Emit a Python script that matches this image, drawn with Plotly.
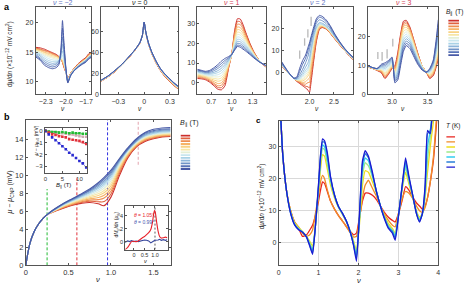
import plotly.graph_objects as go
import numpy as np

W, H = 474, 289
FONT = "Liberation Sans, Arial, sans-serif"
AX = "#555555"

# ---------------- data ----------------
B_VALUES = list(range(13))
B_COLORS = ["#4759a6", "#5873b6", "#6f93c7", "#8cb5da", "#a9d2e6", "#c8e6ee", "#e4efd6",
            "#f6e6a6", "#f8d284", "#f6b468", "#ee8f52", "#e0613f", "#cc2f2c"]

# panel a, nu = -2
A1_NU = [-2.45, -2.38, -2.32, -2.26, -2.2, -2.14, -2.1, -2.07, -2.05, -2.03, -2.0, -1.97,
         -1.93, -1.88, -1.82, -1.76, -1.7, -1.66, -1.62]
A1_DMU = [
    [14.2, 13.6, 12.8, 12.4, 12.2, 12.4, 13.0, 16.0, 20.3, 17.0, 12.5, 9.8, 11.0, 11.8, 12.4, 12.9, 13.3, 13.8, 14.1],
    [14.4, 13.8, 13.1, 12.7, 12.5, 12.7, 13.3, 15.5, 19.0, 16.2, 12.3, 9.9, 11.0, 11.8, 12.5, 13.0, 13.4, 13.9, 14.2],
    [14.6, 14.0, 13.4, 13.0, 12.8, 13.0, 13.5, 15.0, 17.5, 15.5, 12.2, 10.0, 11.1, 11.9, 12.5, 13.0, 13.5, 14.0, 14.3],
    [14.8, 14.3, 13.7, 13.3, 13.1, 13.2, 13.6, 14.6, 16.3, 14.8, 12.0, 10.0, 11.1, 11.9, 12.6, 13.1, 13.6, 14.1, 14.4],
    [15.0, 14.5, 14.0, 13.6, 13.4, 13.4, 13.6, 14.2, 15.2, 14.2, 11.9, 10.1, 11.2, 12.0, 12.6, 13.1, 13.6, 14.1, 14.4],
    [15.1, 14.7, 14.3, 13.9, 13.7, 13.6, 13.7, 14.0, 14.5, 13.7, 11.8, 10.1, 11.2, 12.0, 12.7, 13.2, 13.7, 14.2, 14.5],
    [15.2, 14.9, 14.5, 14.2, 14.0, 13.8, 13.8, 13.9, 14.0, 13.4, 11.8, 10.2, 11.2, 12.0, 12.7, 13.2, 13.7, 14.2, 14.5],
    [15.3, 15.0, 14.7, 14.4, 14.2, 14.0, 13.9, 13.8, 13.7, 13.2, 11.8, 10.2, 11.3, 12.1, 12.8, 13.3, 13.8, 14.3, 14.6],
    [15.4, 15.2, 14.9, 14.6, 14.4, 14.2, 14.0, 13.8, 13.5, 13.0, 11.8, 10.3, 11.3, 12.1, 12.8, 13.3, 13.8, 14.3, 14.6],
    [15.5, 15.3, 15.0, 14.8, 14.6, 14.3, 14.1, 13.8, 13.4, 12.8, 11.8, 10.3, 11.3, 12.1, 12.8, 13.4, 13.9, 14.4, 14.7],
    [15.6, 15.4, 15.2, 15.0, 14.7, 14.4, 14.1, 13.8, 13.4, 12.7, 11.7, 10.4, 11.4, 12.2, 12.9, 13.4, 13.9, 14.5, 14.8],
    [15.7, 15.5, 15.3, 15.1, 14.8, 14.5, 14.2, 13.8, 13.3, 12.6, 11.7, 10.4, 11.4, 12.2, 12.9, 13.5, 14.0, 14.6, 14.9],
    [15.8, 15.7, 15.5, 15.2, 14.9, 14.6, 14.2, 13.8, 13.3, 12.5, 11.6, 10.5, 11.4, 12.2, 13.0, 13.6, 14.1, 14.7, 15.0],
]

# panel a, nu = 0
A2_NU = [-0.5, -0.42, -0.34, -0.26, -0.18, -0.11, -0.05, -0.02, 0.0, 0.02, 0.05, 0.09,
         0.14, 0.19, 0.24, 0.29, 0.34, 0.4]
A2_DMU = [
    [13.5, 17.5, 22.7, 28.5, 35.5, 42.0, 49.0, 56, 68.5, 59.0, 49.0, 40.0, 31.5, 24.5, 19.5, 15.5, 11.5, 7.5],
    [13.4, 17.4, 22.6, 28.4, 35.4, 42.0, 49.0, 56, 68.5, 59.0, 48.9, 39.9, 31.3, 24.3, 19.3, 15.3, 11.3, 7.3],
    [13.3, 17.3, 22.5, 28.3, 35.3, 41.9, 48.9, 56, 68.5, 58.9, 48.8, 39.8, 31.2, 24.2, 19.1, 15.1, 11.1, 7.1],
    [13.3, 17.3, 22.4, 28.3, 35.3, 41.9, 48.9, 56, 68.5, 58.9, 48.8, 39.6, 31.0, 24.0, 18.9, 14.8, 10.8, 6.8],
    [13.2, 17.2, 22.3, 28.2, 35.2, 41.8, 48.8, 56, 68.5, 58.8, 48.7, 39.5, 30.8, 23.8, 18.7, 14.6, 10.6, 6.6],
    [13.1, 17.1, 22.2, 28.1, 35.1, 41.8, 48.8, 56, 68.5, 58.8, 48.6, 39.4, 30.7, 23.7, 18.5, 14.4, 10.4, 6.4],
    [13.0, 17.0, 22.1, 28.0, 35.0, 41.7, 48.7, 56, 68.5, 58.7, 48.5, 39.3, 30.5, 23.5, 18.3, 14.2, 10.2, 6.2],
    [12.9, 16.9, 22.0, 27.9, 34.9, 41.7, 48.7, 56, 68.5, 58.7, 48.4, 39.1, 30.3, 23.3, 18.0, 13.9, 9.9, 5.9],
    [12.8, 16.8, 21.9, 27.8, 34.8, 41.6, 48.6, 56, 68.5, 58.6, 48.3, 39.0, 30.2, 23.2, 17.8, 13.7, 9.7, 5.7],
    [12.8, 16.8, 21.8, 27.8, 34.8, 41.6, 48.6, 56, 68.5, 58.6, 48.3, 38.9, 30.0, 23.0, 17.6, 13.5, 9.5, 5.5],
    [12.7, 16.7, 21.7, 27.7, 34.7, 41.6, 48.6, 56, 68.5, 58.6, 48.2, 38.8, 29.8, 22.8, 17.4, 13.3, 9.3, 5.3],
    [12.6, 16.6, 21.6, 27.6, 34.6, 41.5, 48.5, 56, 68.5, 58.5, 48.1, 38.6, 29.7, 22.7, 17.2, 13.0, 9.0, 5.0],
    [12.5, 16.5, 21.5, 27.5, 34.5, 41.5, 48.5, 56, 68.5, 58.5, 48.0, 38.5, 29.5, 22.5, 17.0, 12.8, 8.8, 4.8],
]

# panel a, nu = 1
A3_NU = [0.5, 0.56, 0.62, 0.68, 0.74, 0.8, 0.85, 0.9, 0.95, 1.0, 1.04, 1.08, 1.12, 1.16,
         1.2, 1.26, 1.32, 1.4, 1.49]
A3_DMU = [
    [6.8, 6.3, 5.8, 6.3, 7.6, 9.3, 11.0, 12.3, 13.2, 14.5, 16.5, 18.3, 18.0, 17.0, 16.0, 14.3, 12.5, 10.4, 8.8],
    [6.5, 6.0, 5.5, 5.8, 6.9, 8.3, 9.8, 11.3, 12.6, 14.4, 16.8, 19.0, 18.8, 17.8, 16.6, 14.7, 12.8, 10.5, 8.8],
    [6.1, 5.7, 5.2, 5.3, 6.1, 7.3, 8.6, 10.3, 12.0, 14.3, 17.2, 19.9, 19.7, 18.6, 17.3, 15.2, 13.1, 10.6, 8.7],
    [5.8, 5.4, 4.8, 4.8, 5.3, 6.2, 7.4, 9.2, 11.5, 14.3, 17.8, 20.9, 20.7, 19.5, 18.0, 15.7, 13.3, 10.7, 8.7],
    [5.4, 5.0, 4.5, 4.3, 4.6, 5.2, 6.2, 8.2, 10.9, 14.3, 18.5, 22.0, 21.8, 20.5, 18.8, 16.2, 13.6, 10.8, 8.6],
    [5.0, 4.7, 4.1, 3.8, 3.8, 4.1, 5.0, 7.1, 10.3, 14.4, 19.3, 23.2, 22.9, 21.5, 19.6, 16.7, 13.9, 10.8, 8.6],
    [4.6, 4.3, 3.8, 3.2, 3.0, 3.0, 3.7, 6.0, 9.7, 14.4, 20.2, 24.4, 24.1, 22.6, 20.4, 17.2, 14.2, 10.9, 8.5],
    [4.2, 4.0, 3.4, 2.7, 2.2, 1.9, 2.5, 4.9, 9.2, 14.5, 21.2, 25.6, 25.3, 23.7, 21.3, 17.7, 14.5, 10.9, 8.5],
    [3.8, 3.6, 3.1, 2.2, 1.4, 0.8, 1.3, 3.8, 8.7, 14.6, 22.3, 26.9, 26.6, 24.9, 22.2, 18.2, 14.7, 11.0, 8.4],
    [3.4, 3.2, 2.7, 1.7, 0.6, -0.4, 0.0, 2.6, 8.2, 14.7, 23.4, 28.2, 27.9, 26.1, 23.1, 18.7, 14.9, 11.0, 8.3],
    [3.0, 2.8, 2.3, 1.3, -0.2, -1.5, -1.2, 1.4, 7.8, 14.8, 24.5, 29.6, 29.4, 27.3, 24.0, 19.1, 15.1, 11.0, 8.2],
    [2.6, 2.4, 1.9, 0.8, -0.8, -2.4, -2.4, 0.0, 7.4, 14.9, 25.5, 31.0, 30.8, 28.4, 24.8, 19.6, 15.3, 11.0, 8.1],
    [2.2, 2.0, 1.5, 0.3, -1.5, -3.3, -3.5, -1.5, 7.0, 15.0, 26.5, 32.3, 32.2, 29.5, 25.5, 20.0, 15.5, 11.0, 8.0],
]

# panel a, nu = 2
A4_NU = [1.43, 1.5, 1.56, 1.62, 1.68, 1.74, 1.8, 1.86, 1.92, 1.97, 2.0, 2.04, 2.09, 2.14,
         2.2, 2.26, 2.34, 2.42, 2.52, 2.62, 2.72, 2.8, 2.89]
A4_DMU = [
    [5.0, 2.5, 0.5, -1.2, -2.5, -2.0, 2.0, 5.5, 8.0, 11.5, 13.5, 17.0, 21.0, 24.5, 26.0, 25.6, 24.0, 21.5, 17.5, 14.0, 11.0, 9.0, 7.0],
    [4.6, 2.3, 0.4, -1.3, -2.6, -2.4, 0.5, 3.8, 6.5, 10.0, 12.5, 16.0, 20.0, 23.5, 25.2, 24.8, 23.3, 21.0, 17.2, 13.8, 10.8, 8.8, 6.9],
    [4.2, 2.1, 0.3, -1.3, -2.6, -2.7, -1.0, 1.5, 4.5, 7.5, 10.5, 14.5, 19.0, 22.4, 24.0, 23.6, 22.3, 20.3, 16.8, 13.6, 10.7, 8.7, 6.8],
    [3.8, 1.9, 0.2, -1.4, -2.7, -2.9, -2.0, 0.0, 2.5, 4.5, 7.0, 12.0, 17.5, 21.0, 22.8, 22.5, 21.4, 19.6, 16.4, 13.4, 10.6, 8.6, 6.7],
    [3.6, 1.8, 0.2, -1.4, -2.7, -3.0, -2.5, -1.0, 1.0, 2.5, 5.0, 10.5, 16.5, 20.3, 22.3, 22.0, 21.0, 19.2, 16.2, 13.3, 10.5, 8.5, 6.6],
    [3.5, 1.7, 0.1, -1.4, -2.7, -3.2, -3.0, -1.8, 0.0, 1.5, 3.5, 9.5, 15.8, 19.8, 22.0, 21.8, 20.8, 19.0, 16.0, 13.2, 10.4, 8.4, 6.5],
    [3.4, 1.7, 0.1, -1.4, -2.7, -3.3, -3.2, -2.5, -1.0, 0.5, 2.5, 8.5, 15.0, 19.3, 21.8, 21.6, 20.6, 18.8, 15.9, 13.1, 10.3, 8.3, 6.4],
    [3.3, 1.6, 0.1, -1.4, -2.7, -3.4, -3.5, -3.2, -2.0, -0.5, 1.0, 7.0, 14.0, 18.6, 21.4, 21.4, 20.5, 18.6, 15.8, 13.0, 10.3, 8.3, 6.3],
    [3.3, 1.6, 0.1, -1.4, -2.7, -3.5, -3.8, -3.8, -3.0, -1.5, -0.5, 5.5, 12.5, 17.8, 21.0, 21.2, 20.3, 18.4, 15.6, 12.9, 10.2, 8.2, 6.2],
    [3.2, 1.6, 0.0, -1.5, -2.8, -3.6, -4.0, -4.5, -4.2, -3.0, -2.5, 3.5, 10.5, 16.8, 20.6, 21.0, 20.2, 18.3, 15.5, 12.8, 10.2, 8.1, 6.2],
    [3.1, 1.5, 0.0, -1.5, -2.8, -3.7, -4.3, -5.0, -5.3, -4.5, -4.5, 1.5, 8.5, 15.8, 20.2, 20.9, 20.1, 18.2, 15.4, 12.7, 10.1, 8.1, 6.1],
    [3.0, 1.5, 0.0, -1.5, -2.8, -3.8, -4.6, -5.5, -6.2, -6.5, -7.0, -1.0, 7.0, 14.8, 19.8, 20.7, 19.9, 18.1, 15.3, 12.6, 10.0, 8.0, 6.0],
    [3.0, 1.5, 0.0, -1.5, -2.8, -4.0, -5.0, -6.0, -7.0, -8.0, -9.0, -3.0, 6.0, 14.0, 19.5, 20.5, 19.8, 18.0, 15.2, 12.5, 10.0, 8.0, 6.0],
]
A4_MARK_NU = [1.80, 1.90, 1.967, 2.033]
A4_MARK_LO = [6.3, 12.2, 16.0, 21.2]
A4_MARK_HI = [10.0, 15.6, 19.7, 25.4]

# panel a, nu = 3
A5_NU = [2.66, 2.73, 2.79, 2.85, 2.9, 2.95, 3.0, 3.04, 3.08, 3.12, 3.16, 3.2, 3.25, 3.3,
         3.36, 3.42, 3.48, 3.53, 3.58, 3.62, 3.65]
A5_DMU = [
    [10.0, 9.3, 9.0, 10.5, 11.0, 11.8, 13.0, 4.0, 5.0, 10.0, 15.0, 17.0, 16.0, 13.5, 10.5, 8.5, 7.7, 9.0, 12.0, 19.0, 26.0],
    [10.0, 9.3, 9.0, 10.2, 10.5, 11.4, 12.6, 4.5, 5.8, 11.0, 16.0, 17.8, 16.8, 14.2, 11.0, 8.8, 7.7, 8.8, 11.5, 18.0, 24.5],
    [9.9, 9.3, 8.9, 9.9, 10.0, 11.0, 12.2, 5.0, 6.6, 12.0, 17.0, 18.6, 17.6, 14.8, 11.4, 9.0, 7.7, 8.5, 11.0, 17.0, 23.0],
    [9.9, 9.2, 8.9, 9.6, 9.5, 10.5, 11.8, 5.5, 7.4, 13.0, 18.0, 19.4, 18.3, 15.4, 11.8, 9.2, 7.7, 8.2, 10.5, 16.0, 21.5],
    [9.8, 9.2, 8.8, 9.3, 9.0, 10.0, 11.4, 6.0, 8.2, 14.0, 19.0, 20.2, 19.0, 16.0, 12.2, 9.4, 7.7, 7.9, 10.0, 15.0, 20.0],
    [9.8, 9.2, 8.8, 9.0, 8.5, 9.5, 11.0, 6.5, 9.0, 15.0, 20.0, 21.0, 19.7, 16.6, 12.6, 9.6, 7.7, 7.6, 9.5, 14.0, 18.5],
    [9.7, 9.1, 8.7, 8.8, 8.0, 9.0, 10.6, 7.0, 9.8, 16.0, 21.0, 21.8, 20.4, 17.2, 13.0, 9.8, 7.7, 7.2, 9.0, 13.0, 17.5],
    [9.7, 9.1, 8.7, 8.6, 7.5, 8.6, 10.2, 7.5, 10.6, 17.0, 22.0, 22.6, 21.1, 17.7, 13.3, 9.9, 7.7, 6.9, 8.5, 12.2, 16.5],
    [9.6, 9.1, 8.6, 8.4, 7.0, 8.2, 9.8, 8.0, 11.4, 18.0, 23.0, 23.4, 21.7, 18.2, 13.6, 10.0, 7.7, 6.6, 8.0, 11.5, 15.5],
    [9.6, 9.0, 8.5, 8.2, 6.5, 7.8, 9.6, 8.5, 12.2, 18.8, 23.7, 24.1, 22.3, 18.6, 13.9, 10.0, 7.8, 6.3, 7.5, 10.8, 14.5],
    [9.5, 9.0, 8.5, 8.0, 6.2, 7.5, 9.4, 9.0, 13.0, 19.6, 24.3, 24.7, 22.8, 19.0, 14.1, 10.0, 7.8, 6.0, 7.2, 10.3, 13.8],
    [9.5, 9.0, 8.4, 7.7, 5.8, 7.2, 9.2, 9.5, 13.8, 20.3, 24.9, 25.3, 23.2, 19.3, 14.3, 10.0, 7.8, 5.7, 6.8, 9.9, 13.1],
    [9.5, 9.0, 8.3, 7.5, 5.5, 7.0, 9.0, 10.0, 14.5, 21.0, 25.5, 25.8, 23.5, 19.5, 14.5, 10.0, 7.8, 5.5, 6.5, 9.5, 12.5],
]
A5_MARK_NU = [2.80, 2.86, 2.93, 3.01]
A5_MARK_LO = [12.3, 11.7, 12.5, 16.7]
A5_MARK_HI = [14.8, 14.8, 15.7, 19.4]

# panel b main
B_NU = [0, 0.05, 0.1, 0.15, 0.2, 0.25, 0.35, 0.45, 0.55, 0.65, 0.75, 0.85, 0.92, 1.0,
        1.1, 1.2, 1.3, 1.4, 1.5, 1.6, 1.7]
B_MU = [
    [0, 2.5, 3.8, 4.6, 5.2, 5.65, 6.35, 6.95, 7.45, 7.95, 8.50, 9.20, 9.80, 10.60, 11.90, 13.10, 14.10, 14.80, 15.15, 15.30, 15.35],
    [0, 2.5, 3.8, 4.6, 5.2, 5.65, 6.33, 6.92, 7.40, 7.88, 8.40, 9.05, 9.62, 10.43, 11.80, 13.00, 14.00, 14.70, 15.00, 15.15, 15.20],
    [0, 2.5, 3.8, 4.6, 5.2, 5.65, 6.30, 6.88, 7.35, 7.80, 8.30, 8.90, 9.44, 10.25, 11.70, 12.95, 13.90, 14.60, 14.90, 15.05, 15.10],
    [0, 2.5, 3.8, 4.6, 5.2, 5.65, 6.28, 6.84, 7.29, 7.72, 8.18, 8.72, 9.24, 10.05, 11.60, 12.90, 13.85, 14.50, 14.80, 14.95, 15.00],
    [0, 2.5, 3.8, 4.6, 5.2, 5.65, 6.25, 6.80, 7.23, 7.63, 8.06, 8.55, 9.03, 9.85, 11.50, 12.82, 13.80, 14.42, 14.70, 14.85, 14.90],
    [0, 2.5, 3.8, 4.6, 5.2, 5.65, 6.23, 6.76, 7.17, 7.55, 7.93, 8.36, 8.82, 9.62, 11.35, 12.75, 13.72, 14.35, 14.62, 14.77, 14.82],
    [0, 2.5, 3.8, 4.6, 5.2, 5.65, 6.20, 6.71, 7.10, 7.46, 7.80, 8.17, 8.58, 9.38, 11.20, 12.65, 13.65, 14.28, 14.55, 14.70, 14.75],
    [0, 2.5, 3.8, 4.6, 5.2, 5.65, 6.18, 6.66, 7.03, 7.37, 7.67, 7.97, 8.34, 9.12, 11.05, 12.55, 13.58, 14.20, 14.47, 14.62, 14.67],
    [0, 2.5, 3.8, 4.6, 5.2, 5.65, 6.15, 6.61, 6.96, 7.28, 7.53, 7.77, 8.08, 8.85, 10.90, 12.45, 13.50, 14.12, 14.40, 14.55, 14.60],
    [0, 2.5, 3.8, 4.6, 5.2, 5.65, 6.13, 6.56, 6.89, 7.19, 7.40, 7.55, 7.80, 8.55, 10.70, 12.35, 13.42, 14.05, 14.32, 14.48, 14.53],
    [0, 2.5, 3.8, 4.6, 5.2, 5.65, 6.10, 6.51, 6.82, 7.09, 7.26, 7.32, 7.50, 8.25, 10.50, 12.25, 13.35, 13.97, 14.25, 14.42, 14.47],
    [0, 2.5, 3.8, 4.6, 5.2, 5.65, 6.08, 6.45, 6.76, 6.99, 7.13, 7.08, 7.10, 7.95, 10.25, 12.12, 13.28, 13.90, 14.17, 14.36, 14.41],
    [0, 2.5, 3.8, 4.6, 5.2, 5.65, 6.05, 6.40, 6.70, 6.90, 7.00, 6.85, 6.65, 7.60, 10.00, 12.00, 13.20, 13.80, 14.10, 14.30, 14.35],
]
B_CUT_NU = [0.25, 0.6, 0.96, 1.32]
B_CUT_LO = [0, 0, 0, 11.2]
B_CUT_HI = [8.5, 9.7, 16.3, 16.3]
B_CUT_COLORS = ["#22bb33", "#e0303a", "#3030e0", "#e3a3ad"]

# panel b inset 1 (shift vs field at the cut fillings)
IN1_GREEN = [0, -0.05, -0.1, -0.1, -0.15, -0.1, -0.15, -0.2, -0.15, -0.2, -0.2, -0.25, -0.25]
IN1_GREY = [0, -0.05, -0.1, -0.15, -0.15, -0.2, -0.25, -0.3, -0.3, -0.4, -0.45, -0.5, -0.5]
IN1_RED = [0, -0.15, -0.3, -0.35, -0.45, -0.5, -0.55, -0.7, -0.75, -0.8, -0.85, -0.95, -1.1]
IN1_BLUE = [0, -0.3, -0.55, -0.8, -1.05, -1.3, -1.55, -1.85, -2.05, -2.3, -2.55, -2.75, -3.1]

# panel b inset 2
IN2_NU = [-0.43, -0.3, -0.2, -0.12, 0.0, 0.1, 0.2, 0.3, 0.4, 0.5, 0.6, 0.7, 0.8, 0.88,
          0.94, 0.98, 1.02, 1.08, 1.15, 1.22, 1.3, 1.4, 1.5, 1.58]
IN2_RED = [-1.3, -0.9, -0.4, 0.0, 0.05, 0.0, 0.1, 0.35, 0.6, 0.8, 1.1, 1.4, 1.9, 3.0,
           4.4, 4.9, 4.5, 3.0, 1.6, 0.8, 0.55, 0.6, 0.7, 0.6]
IN2_BLUE = [-0.1, 0.1, 0.0, 0.15, 0.0, 0.1, 0.0, 0.1, 0.2, 0.25, 0.2, 0.1, -0.2, -0.1,
            0.1, 0.2, 0.2, 0.3, 0.25, 0.35, 0.2, 0.3, 0.2, 0.3]

# panel c
C_NU = [0.03, 0.1, 0.2, 0.3, 0.4, 0.5, 0.6, 0.7, 0.78, 0.85, 0.92, 1.0, 1.05, 1.1, 1.15,
        1.22, 1.3, 1.4, 1.5, 1.6, 1.7, 1.8, 1.88, 1.95, 2.02, 2.1, 2.17, 2.25, 2.35, 2.45,
        2.55, 2.65, 2.75, 2.85, 2.92, 3.0, 3.1, 3.18, 3.26, 3.35, 3.45, 3.53, 3.6, 3.67,
        3.73, 3.8, 3.88, 3.96]
C_T_LABELS = ["16.00", "9.50", "3.00", "2.30", "1.50", "0.80", "0.05"]
C_COLORS = ["#e8251e", "#f08c28", "#eedc1c", "#9ee88a", "#33cdf0", "#2a7fd8", "#1a1ad2"]
C_DMU = [
    [45, 28, 16, 10, 6.5, 4.5, 2.0, 2.5, 4.0, 5.5, 8.5, 13.0, 16.5, 19.0, 18.5, 16.0, 13.0, 10.5, 8.5, 6.8, 5.0, 3.5, 2.5, 3.0, 7.5, 13.0, 15.5, 15.5, 14.8, 13.5, 11.5, 9.5, 8.0, 7.0, 6.5, 9.0, 13.5, 17.5, 16.5, 14.5, 12.5, 11.5, 10.5, 11.5, 14.0, 19.0, 26.0, 38.0],
    [45, 28, 16, 10, 6.5, 5.0, 3.0, 2.0, 2.5, 4.0, 9.0, 15.0, 19.0, 21.0, 20.0, 16.5, 13.0, 10.5, 8.5, 6.8, 5.0, 3.0, 1.8, 2.0, 7.0, 14.0, 18.0, 19.5, 17.0, 14.5, 11.5, 9.0, 7.0, 5.5, 5.0, 9.0, 14.0, 16.0, 15.5, 14.0, 11.5, 10.0, 9.5, 11.0, 14.0, 19.0, 27.0, 40.0],
    [45, 28, 16, 9.8, 6.2, 4.8, 3.5, 2.0, 0.5, -1.0, 5.0, 16.0, 23.0, 27.5, 27.0, 23.0, 18.0, 14.0, 11.0, 8.8, 6.5, 3.5, 0.5, -2.5, 5.0, 18.0, 22.5, 22.0, 19.0, 15.5, 11.5, 8.5, 6.0, 4.5, 3.0, 8.5, 17.0, 22.0, 18.5, 14.5, 10.0, 8.0, 9.0, 14.0, 22.0, 30.0, 38.0, 45.0],
    [45, 28, 16, 9.6, 6.0, 4.5, 3.4, 1.9, 0.0, -2.0, 5.0, 17.0, 25.0, 29.5, 29.0, 24.5, 19.0, 14.5, 11.2, 9.0, 6.6, 3.3, 0.0, -3.2, 6.0, 21.0, 25.0, 24.0, 20.5, 16.0, 11.5, 8.0, 5.5, 4.0, 2.5, 8.5, 17.5, 23.5, 19.5, 15.0, 9.8, 7.5, 9.0, 15.0, 26.0, 33.0, 42.0, 48.0],
    [45, 28, 16, 9.4, 5.8, 4.3, 3.4, 1.8, -0.5, -2.6, 5.0, 17.5, 26.0, 30.5, 30.0, 26.0, 19.8, 14.8, 11.2, 9.1, 6.6, 3.2, -0.5, -4.0, 6.5, 23.0, 26.5, 25.5, 21.0, 16.0, 11.5, 8.0, 5.0, 3.8, 2.0, 8.3, 18.0, 24.5, 20.0, 15.2, 9.5, 7.0, 9.0, 16.0, 30.0, 35.0, 44.0, 50.0],
    [45, 28, 16, 9.3, 5.7, 4.2, 3.3, 1.8, -0.8, -3.2, 5.0, 18.0, 27.0, 31.5, 31.3, 27.5, 20.3, 14.9, 11.3, 9.2, 6.7, 3.1, -0.8, -4.8, 7.0, 24.5, 27.8, 26.5, 21.5, 16.0, 11.5, 7.8, 4.8, 3.5, 1.5, 8.2, 18.3, 25.5, 20.5, 15.3, 9.3, 6.7, 9.0, 17.0, 34.0, 35.0, 45.0, 50.0],
    [45, 28, 16, 9.2, 5.6, 4.1, 3.3, 1.8, -1.0, -3.6, 5.0, 18.5, 27.5, 32.4, 31.8, 28.0, 20.6, 14.9, 11.3, 9.2, 6.7, 3.1, -1.0, -5.8, 8.0, 25.5, 28.7, 27.0, 22.0, 16.0, 11.5, 7.5, 4.5, 3.0, 0.8, 8.0, 18.5, 26.5, 21.0, 15.4, 9.2, 6.5, 9.0, 18.0, 35.0, 34.0, 45.0, 50.0],
]


# ---------------- helpers ----------------
def dx(l, r):
    return [l / W, r / W]


def dy(t, b):
    return [1 - b / H, 1 - t / H]


def px(x):
    return x / W


def py(y):
    return 1 - y / H


def axis(domain, rng, anchor, tickvals=None, ticktext=None, fs=7.5, grid=False):
    d = dict(domain=domain, range=rng, anchor=anchor, ticks="inside", ticklen=2,
             tickwidth=0.7, tickcolor=AX, showline=True, linecolor=AX, linewidth=0.8,
             mirror="ticks", showgrid=grid, gridcolor="#d9d9d9", gridwidth=0.7,
             zeroline=False, tickfont=dict(size=fs, color="#333", family=FONT),
             fixedrange=True)
    if tickvals is not None:
        d["tickmode"] = "array"
        d["tickvals"] = tickvals
        d["ticktext"] = ticktext if ticktext is not None else [str(v) for v in tickvals]
    return d


def hidden(domain, rng, anchor):
    return dict(domain=domain, range=rng, anchor=anchor, visible=False, fixedrange=True)


def names(i):
    return ("x" if i == 1 else f"x{i}"), ("y" if i == 1 else f"y{i}")


fig = go.Figure()
layout = {}
ann = []


def A(text, x, y, size=7, color="#222", xa="center", ya="middle", angle=0, xref="paper",
      yref="paper"):
    ann.append(dict(text=text, x=x, y=y, xref=xref, yref=yref, showarrow=False,
                    xanchor=xa, yanchor=ya, textangle=angle,
                    font=dict(size=size, color=color, family=FONT)))


# ---------------- panel a ----------------
A_PANELS = [
    (A1_NU, A1_DMU, (34, 90), [-2.45, -1.62], [7.9, 22.6], [-2.3, -2.0, -1.7],
     ["−2.3", "−2.0", "−1.7"], [10, 15, 20], "<i>ν</i> = −2", "#6272c2"),
    (A2_NU, A2_DMU, (100, 178), [-0.5, 0.4], [0, 83], [-0.3, 0, 0.3],
     ["−0.3", "0", "0.3"], [0, 20, 40, 60], "<i>ν</i> = 0", "#222222"),
    (A3_NU, A3_DMU, (197, 266), [0.5, 1.49], [-5.8, 38.3], [0.7, 1.0, 1.3],
     ["0.7", "1.0", "1.3"], [0, 10, 20, 30], "<i>ν</i> = 1", "#d23a55"),
    (A4_NU, A4_DMU, (282, 354), [1.43, 2.89], [-9.9, 29.9], [2.0, 2.5],
     ["2.0", "2.5"], [0, 10, 20], "<i>ν</i> = 2", "#6272c2"),
    (A5_NU, A5_DMU, (369, 440), [2.66, 3.65], [0, 30.5], [3.0, 3.5],
     ["3.0", "3.5"], [0, 10, 20], "<i>ν</i> = 3", "#d23a55"),
]
A_TOP, A_BOT = 7, 96
for i, (nu, tab, (l, r), xr, yr, xt, xtt, yt, title, tcol) in enumerate(A_PANELS, start=1):
    xn, yn = names(i)
    layout[f"xaxis{i}"] = axis(dx(l, r), xr, yn, xt, xtt, fs=7)
    layout[f"yaxis{i}"] = axis(dy(A_TOP, A_BOT), yr, xn, yt, fs=7)
    for b in reversed(B_VALUES):
        fig.add_trace(go.Scatter(x=nu, y=tab[b], mode="lines",
                                 line=dict(color=B_COLORS[b], width=1, shape="spline", smoothing=0.5),
                                 xaxis=xn, yaxis=yn, showlegend=False, hoverinfo="skip"))
    A(title, px((l + r) / 2), py(2.5), size=7, color=tcol)
    A("<i>ν</i>", px((l + r) / 2), py(110), size=6.5)

for i, (mnu, lo, hi) in ((4, (A4_MARK_NU, A4_MARK_LO, A4_MARK_HI)),
                         (5, (A5_MARK_NU, A5_MARK_LO, A5_MARK_HI))):
    xs, ys = [], []
    for n, a0, a1 in zip(mnu, lo, hi):
        xs += [n, n, None]
        ys += [a0, a1, None]
    xn, yn = names(i)
    fig.add_trace(go.Scatter(x=xs, y=ys, mode="lines", line=dict(color="#b8b8b8", width=1.3),
                             xaxis=xn, yaxis=yn, showlegend=False, hoverinfo="skip"))

A("d<i>μ</i>/d<i>n</i> (×10<sup>−12</sup> mV cm<sup>2</sup>)", px(7), py(55), size=6.5, angle=-90)
A("<b>a</b>", px(0.5), py(0.5), size=9, color="#000", xa="left", ya="top")

# B legend for panel a (axis 10)
layout["xaxis10"] = hidden(dx(450, 461), [0, 1], "y10")
layout["yaxis10"] = hidden(dy(19.5, 57.5), [-0.5, 12.5], "x10")
for b in B_VALUES:
    fig.add_trace(go.Scatter(x=[0, 1], y=[b, b], mode="lines", line=dict(color=B_COLORS[b], width=1.8),
                             xaxis="x10", yaxis="y10", showlegend=False, hoverinfo="skip"))
A("12", 1.12, 12, size=6, xa="left", xref="x10", yref="y10")
A("0", 1.12, 0, size=6, xa="left", xref="x10", yref="y10")
A("<i>B</i><sub>∥</sub> (T)", px(456), py(13), size=6.5)

# ---------------- panel b ----------------
layout["xaxis6"] = axis(dx(24, 170), [0, 1.7], "y6", [0, 0.5, 1, 1.5], ["0", "0.5", "1.0", "1.5"], fs=7.5)
layout["yaxis6"] = axis(dy(122, 270), [0, 16.2], "x6", list(range(0, 16, 2)), fs=7.5)
for n, lo, hi, col in zip(B_CUT_NU, B_CUT_LO, B_CUT_HI, B_CUT_COLORS):
    fig.add_trace(go.Scatter(x=[n, n], y=[lo, hi], mode="lines", line=dict(color=col, width=1, dash="3px,2px"),
                             xaxis="x6", yaxis="y6", showlegend=False, hoverinfo="skip"))
for b in reversed(B_VALUES):
    fig.add_trace(go.Scatter(x=B_NU, y=B_MU[b], mode="lines",
                             line=dict(color=B_COLORS[b], width=1.1, shape="spline", smoothing=1),
                             xaxis="x6", yaxis="y6", showlegend=False, hoverinfo="skip"))
A("<i>μ</i> − <i>μ</i><sub>CNP</sub> (mV)", px(8), py(196), size=7, angle=-90)
A("<i>ν</i>", px(97), py(284), size=7.5)
A("<b>b</b>", px(0.5), py(112), size=9, color="#000", xa="left", ya="top")

# inset 1
layout["xaxis7"] = axis(dx(43, 86), [-0.2, 12.3], "y7", [0, 5, 10], fs=6)
layout["yaxis7"] = axis(dy(130.5, 176), [-3.56, 0.22], "x7", [0, -1, -2, -3], ["0", "−1", "−2", "−3"], fs=6)
Bx = np.array(B_VALUES, dtype=float)
for vals, col in ((IN1_GREY, "#cfa9b2"), (IN1_GREEN, "#22bb33"), (IN1_RED, "#e0303a"), (IN1_BLUE, "#2a2ad0")):
    v = np.array(vals)
    slope = float((Bx * v).sum() / (Bx * Bx).sum())
    fig.add_trace(go.Scatter(x=[0, 12], y=[0, slope * 12], mode="lines",
                             line=dict(color=col, width=0.8, dash="2px,2px"),
                             xaxis="x7", yaxis="y7", showlegend=False, hoverinfo="skip"))
    fig.add_trace(go.Scatter(x=B_VALUES, y=vals, mode="markers",
                             marker=dict(color=col, size=2.6, symbol="square"),
                             xaxis="x7", yaxis="y7", showlegend=False, hoverinfo="skip"))
A("<i>μ</i> − <i>μ</i><sub><i>B</i>=0</sub> (mV)", px(35), py(143), size=5, angle=-90)
A("<i>B</i><sub>∥</sub> (T)", px(62), py(188.5), size=6)

# inset 2
layout["xaxis8"] = axis(dx(124, 167), [-0.43, 1.6], "y8", [0, 0.5, 1], ["0", "0.5", "1.0"], fs=5.5)
layout["yaxis8"] = axis(dy(210, 254), [-1.25, 5.5], "x8", [0, 2, 4], fs=5.5)
fig.add_trace(go.Scatter(x=[1, 1], y=[-1.25, 5.5], mode="lines", line=dict(color="#333", width=0.8, dash="2px,2px"),
                         xaxis="x8", yaxis="y8", showlegend=False, hoverinfo="skip"))
fig.add_trace(go.Scatter(x=IN2_NU, y=IN2_BLUE, mode="lines", line=dict(color="#34449a", width=1.1),
                         xaxis="x8", yaxis="y8", showlegend=False, hoverinfo="skip"))
fig.add_trace(go.Scatter(x=IN2_NU, y=IN2_RED, mode="lines",
                         line=dict(color="#e8202a", width=1.1, shape="spline", smoothing=0.6),
                         xaxis="x8", yaxis="y8", showlegend=False, hoverinfo="skip"))
A("<i>θ</i> = 1.05°", px(131), py(219), size=5, color="#e8202a", xa="left")
A("<i>θ</i> = 0.99°", px(131), py(225.5), size=5, color="#4a5ab0", xa="left")
A("d<i>M</i><sub>∥</sub>/d<i>n</i> (<i>μ</i><sub>B</sub>)", px(115.5), py(229), size=5, angle=-90)
A("<i>ν</i>", px(145), py(265.5), size=5.5)

# B legend for panel b (axis 11)
layout["xaxis11"] = hidden(dx(180, 190), [0, 1], "y11")
layout["yaxis11"] = hidden(dy(136.6, 173.4), [-0.5, 12.5], "x11")
for b in B_VALUES:
    fig.add_trace(go.Scatter(x=[0, 1], y=[b, b], mode="lines", line=dict(color=B_COLORS[b], width=1.8),
                             xaxis="x11", yaxis="y11", showlegend=False, hoverinfo="skip"))
A("12", 1.15, 12, size=6.5, xa="left", xref="x11", yref="y11")
A("0", 1.15, 0, size=6.5, xa="left", xref="x11", yref="y11")
A("<i>B</i><sub>∥</sub> (T)", px(189), py(126), size=7)

# ---------------- panel c ----------------
layout["xaxis9"] = axis(dx(279, 440), [0, 4], "y9", [0, 1, 2, 3, 4], fs=7, grid=True)
layout["yaxis9"] = axis(dy(123, 270), [-7, 38], "x9", [0, 10, 20, 30], fs=7, grid=True)
for vals, col in zip(C_DMU, C_COLORS):
    fig.add_trace(go.Scatter(x=C_NU, y=vals, mode="lines",
                             line=dict(color=col, width=1.3, shape="spline", smoothing=0.4),
                             xaxis="x9", yaxis="y9", showlegend=False, hoverinfo="skip"))
A("d<i>μ</i>/d<i>n</i> (×10<sup>−12</sup> mV cm<sup>2</sup>)", px(262), py(200), size=6.5, angle=-90)
A("<i>ν</i>", px(360), py(285), size=7.5)
A("<b>c</b>", px(259), py(123), size=8, color="#000")

# T legend (axis 12)
layout["xaxis12"] = hidden(dx(448, 457), [0, 1], "y12")
layout["yaxis12"] = hidden(dy(136.7, 172.6), [-0.5, 6.5], "x12")
for k, (lab, col) in enumerate(zip(C_T_LABELS, C_COLORS)):
    yv = len(C_T_LABELS) - 1 - k
    fig.add_trace(go.Scatter(x=[0, 1], y=[yv, yv], mode="lines", line=dict(color=col, width=1.4),
                             xaxis="x12", yaxis="y12", showlegend=False, hoverinfo="skip"))
    A(lab, 1.12, yv, size=5, xa="left", xref="x12", yref="y12")
A("<i>T</i> (K)", px(455), py(128), size=6.5)

fig.update_layout(width=W, height=H, margin=dict(l=0, r=0, t=0, b=0),
                  paper_bgcolor="white", plot_bgcolor="white", showlegend=False,
                  font=dict(family=FONT, size=7, color="#222"), annotations=ann, **layout)
fig.write_html("out.html")
